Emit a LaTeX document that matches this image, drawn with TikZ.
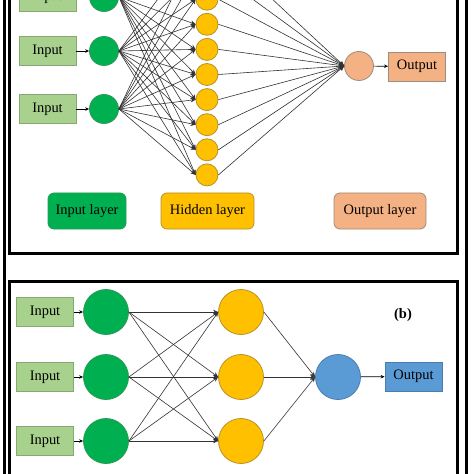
\documentclass[tikz,border=0pt]{standalone}
\usepackage{fontspec}
\setmainfont{Liberation Serif}
\usetikzlibrary{arrows.meta}

\definecolor{inboxfill}{HTML}{A9D18E}
\definecolor{inboxedge}{HTML}{86A874}
\definecolor{greenfill}{HTML}{00B050}
\definecolor{greenedge}{HTML}{2A9A55}
\definecolor{hiddenfill}{HTML}{FFC000}
\definecolor{hiddenedge}{HTML}{B8922A}
\definecolor{peachfill}{HTML}{F4B183}
\definecolor{peachedge}{HTML}{A08C7C}
\definecolor{bluefill}{HTML}{5B9BD5}
\definecolor{blueedge}{HTML}{4A7DAA}
\definecolor{linkgray}{HTML}{333333}

\begin{document}
\begin{tikzpicture}
  [x=1bp, y=-1bp,
   txt/.style={font=\fontsize{14.5}{16}\selectfont},
   databox/.style={txt, draw, line width=0.8bp, minimum width=57bp, minimum height=29bp, inner sep=0pt},
   neuron/.style={circle, draw, line width=0.8bp, inner sep=0pt},
   legendbox/.style={txt, draw, line width=0.8bp, rounded corners=6bp, minimum height=36bp, inner sep=0pt},
   link/.style={draw=linkgray, line width=0.6bp, -{Stealth[length=5bp,width=4.5bp]}},
   feed/.style={draw=black, line width=0.7bp, -{Stealth[length=4bp,width=3.5bp]}}]
\useasboundingbox (0,0) rectangle (474,474);
\clip (0,0) rectangle (474,474);
\fill[white] (0,0) rectangle (474,474);

% frames
\draw[line width=3bp] (4.5,-10) -- (4.5,484);
\draw[line width=3bp] (466,-10) -- (466,484);
\draw[line width=3bp] (9.5,-40) rectangle (457.5,253.5);
\draw[line width=3bp] (9.5,281) rectangle (457.5,520);

% (a) many hidden neurons
\foreach \y [count=\i] in {-3,51,109} {
  \node[databox, fill=inboxfill, draw=inboxedge] (ia\i) at (47.5,\y) {Input};
  \node[neuron, fill=greenfill, draw=greenedge, minimum size=29bp] (na\i) at (104,\y) {};
  \draw[feed] (ia\i) -- (na\i);
}
\foreach \i in {1,...,10}
  \node[neuron, fill=hiddenfill, draw=hiddenedge, minimum size=22bp] (ha\i) at (207,{-51+25.1*(\i-1)}) {};
\node[neuron, fill=peachfill, draw=peachedge, minimum size=29bp] (oa) at (359,66) {};
\node[databox, fill=peachfill, draw=peachedge] (outa) at (417,66.5) {Output};

\foreach \i in {1,2,3}
  \foreach \j in {1,...,10}
    \draw[link] (na\i.east) -- (ha\j.west);
\foreach \j in {1,...,10}
  \draw[link] (ha\j.east) -- (oa.west);
\draw[feed] (oa) -- (outa);

% legend
\node[legendbox, fill=greenfill, draw=greenedge, minimum width=78bp] (leg1) at (87,211) {Input layer};
\node[legendbox, fill=hiddenfill, draw=hiddenedge, minimum width=93bp] (leg2) at (207.5,211) {Hidden layer};
\node[legendbox, fill=peachfill, draw=peachedge, minimum width=92bp] (leg3) at (380,211) {Output layer};

% (b) small network
\foreach \y [count=\i] in {312,377,441} {
  \node[databox, fill=inboxfill, draw=inboxedge] (ib\i) at (45,\y) {Input};
  \node[neuron, fill=greenfill, draw=greenedge, minimum size=45bp] (nb\i) at (106,\y) {};
  \node[neuron, fill=hiddenfill, draw=hiddenedge, minimum size=45bp] (hb\i) at (241,\y) {};
  \draw[feed] (ib\i) -- (nb\i);
}
\node[neuron, fill=bluefill, draw=blueedge, minimum size=45bp] (ob) at (338,377) {};
\node[databox, fill=bluefill, draw=blueedge] (outb) at (413.5,376.5) {Output};
\foreach \i in {1,2,3}
  \foreach \j in {1,2,3}
    \draw[link] (nb\i.east) -- (hb\j.west);
\foreach \j in {1,2,3}
  \draw[link] (hb\j.east) -- (ob.west);
\draw[feed] (ob) -- (outb);

\node[txt, font=\fontsize{14.5}{16}\selectfont\bfseries] (tagb) at (403,315) {(b)};
\end{tikzpicture}
\end{document}
